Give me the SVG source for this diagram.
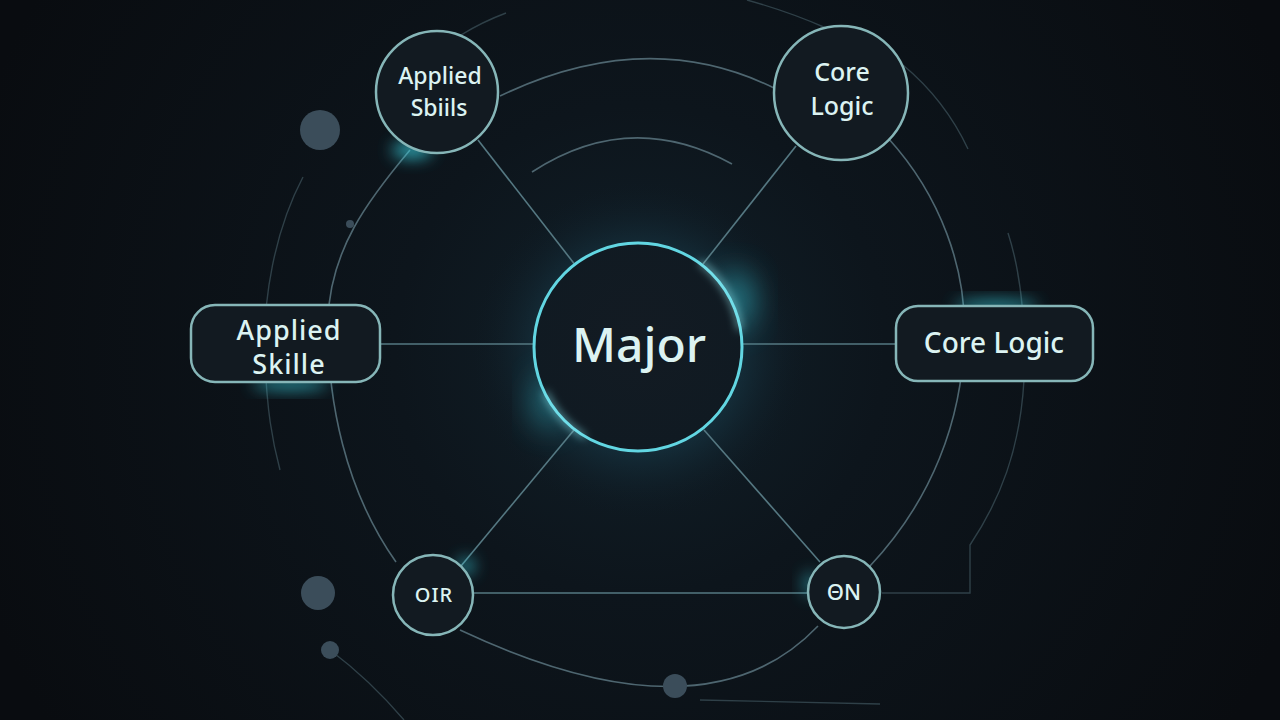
<svg xmlns="http://www.w3.org/2000/svg" width="1280" height="720" viewBox="0 0 1280 720">
  <defs>
    <radialGradient id="bg" cx="640" cy="350" r="700" gradientUnits="userSpaceOnUse">
      <stop offset="0" stop-color="#112029"/>
      <stop offset="0.35" stop-color="#0d151c"/>
      <stop offset="1" stop-color="#090c10"/>
    </radialGradient>
    <radialGradient id="halo" cx="0.5" cy="0.5" r="0.5">
      <stop offset="0.55" stop-color="#1b4556" stop-opacity="0.5"/>
      <stop offset="1" stop-color="#0e1821" stop-opacity="0"/>
    </radialGradient>
    <radialGradient id="majorFill" cx="0.5" cy="0.45" r="0.55">
      <stop offset="0" stop-color="#131b23"/>
      <stop offset="1" stop-color="#101a22"/>
    </radialGradient>
    <filter id="blur8" x="-100%" y="-100%" width="300%" height="300%">
      <feGaussianBlur stdDeviation="8"/>
    </filter>
    <filter id="blur4" x="-100%" y="-100%" width="300%" height="300%">
      <feGaussianBlur stdDeviation="4"/>
    </filter>
    <filter id="blur14" x="-100%" y="-100%" width="300%" height="300%">
      <feGaussianBlur stdDeviation="16"/>
    </filter>
  </defs>
  <style>
    .ring { fill: none; stroke: #4e6670; stroke-width: 1.6; }
    .faint { fill: none; stroke: #2f4048; stroke-width: 1.4; }
    .conn { fill: none; stroke: #557882; stroke-width: 1.6; }
    .node { fill: #121a21; stroke: #86b6b8; stroke-width: 2.5; }
    .dot { fill: #3b4d5a; }
    .glow { fill: #3ee0f0; }
    .lbl { font-family: "Noto Sans", "Open Sans", "Liberation Sans", sans-serif; fill: #dcf3f2; text-anchor: middle; font-weight: 500; }
  </style>

  <rect width="1280" height="720" fill="url(#bg)"/>
  <circle cx="640" cy="350" r="170" fill="url(#halo)"/>

  <!-- decorative rings and arcs -->
  <g id="decor">
    <path class="ring" d="M500,96 Q648,25 776,89"/>
    <path class="ring" d="M888,138 C940,195 968,270 964,340 C962,420 932,500 870,566"/>
    <path class="ring" d="M410,150 C368,200 330,250 328,320 C327,400 345,490 396,562"/>
    <path class="ring" d="M460,630 Q705,745 818,626"/>
    <path class="ring" d="M532,172 Q630,108 732,164"/>
    <path class="faint" d="M461,35 Q482,22 506,13"/>
    <path class="faint" d="M747,0 Q790,12 826,28"/>
    <path class="faint" d="M903,65 Q945,100 968,149"/>
    <path class="faint" d="M303,177 C275,230 262,300 265,360 C267,410 272,440 280,470"/>
    <path class="faint" d="M1008,233 C1020,270 1026,320 1024,380 C1020,450 1000,500 970,545 L970,593 L882,593"/>
    <path class="faint" d="M330,650 Q370,680 404,720"/>
    <path class="faint" d="M700,700 L880,704"/>
    <circle class="dot" cx="320" cy="130" r="20"/>
    <circle class="dot" cx="318" cy="593" r="17"/>
    <circle class="dot" cx="330" cy="650" r="9"/>
    <circle class="dot" cx="675" cy="686" r="12" fill="#4a6272"/>
    <circle class="dot" cx="350" cy="224" r="4"/>
  </g>

  <!-- connectors -->
  <g id="connectors">
    <line class="conn" x1="478" y1="140" x2="576" y2="266"/>
    <line class="conn" x1="796" y1="146" x2="703" y2="264"/>
    <line class="conn" x1="380" y1="344" x2="534" y2="344"/>
    <line class="conn" x1="742" y1="344" x2="895" y2="344"/>
    <line class="conn" x1="574" y1="430" x2="461" y2="566"/>
    <line class="conn" x1="704" y1="430" x2="820" y2="562"/>
    <line class="conn" x1="473" y1="593" x2="807" y2="593"/>
  </g>

  <!-- glows -->
  <g id="glows">
    <ellipse class="glow" cx="412" cy="150" rx="20" ry="8" filter="url(#blur8)" opacity="0.75"/>
    <ellipse class="glow" cx="996" cy="306" rx="42" ry="5" filter="url(#blur8)" opacity="0.75"/>
    <ellipse class="glow" cx="290" cy="384" rx="38" ry="5" filter="url(#blur8)" opacity="0.75"/>
    <ellipse class="glow" cx="736" cy="300" rx="14" ry="28" filter="url(#blur14)" opacity="0.6"/>
    <ellipse class="glow" cx="548" cy="402" rx="12" ry="26" filter="url(#blur14)" opacity="0.5"/>
    <ellipse class="glow" cx="466" cy="566" rx="8" ry="8" filter="url(#blur8)" opacity="0.65"/>
    <ellipse class="glow" cx="810" cy="584" rx="6" ry="12" filter="url(#blur8)" opacity="0.55"/>
  </g>

  <g id="node-major">
    <circle cx="638" cy="347" r="104" fill="url(#majorFill)" stroke="#62d6e2" stroke-width="3"/>
    <path d="M700,262 A104,104 0 0 1 740,330" fill="none" stroke="#9ff4fb" stroke-width="3" filter="url(#blur4)"/>
    <path d="M545,392 A104,104 0 0 0 585,437" fill="none" stroke="#8ff0fa" stroke-width="3" filter="url(#blur4)"/>
    <text class="lbl" x="639" y="362" font-size="48">Major</text>
  </g>

  <g id="node-applied-top">
    <circle class="node" cx="437" cy="92" r="61"/>
    <text class="lbl" x="440" y="84" font-size="23">Applied</text>
    <text class="lbl" x="439" y="116" font-size="23">Sbiils</text>
  </g>

  <g id="node-core-top">
    <circle class="node" cx="841" cy="93" r="67"/>
    <text class="lbl" x="842" y="81" font-size="25">Core</text>
    <text class="lbl" x="842" y="115" font-size="25">Logic</text>
  </g>

  <g id="node-applied-box">
    <rect class="node" x="191" y="305" width="189" height="77" rx="24" stroke="#7fc0c6"/>
    <text class="lbl" x="289" y="340" font-size="27" letter-spacing="1">Applied</text>
    <text class="lbl" x="289" y="374" font-size="27" letter-spacing="1">Skille</text>
  </g>

  <g id="node-core-box">
    <rect class="node" x="896" y="306" width="197" height="75" rx="22" stroke="#7fc0c6"/>
    <text class="lbl" x="994" y="353" font-size="28">Core Logic</text>
  </g>

  <g id="node-oir">
    <circle class="node" cx="433" cy="595" r="40"/>
    <text class="lbl" x="434" y="602" font-size="20" font-weight="600" letter-spacing="1">OIR</text>
  </g>

  <g id="node-on">
    <circle class="node" cx="844" cy="592" r="36"/>
    <text class="lbl" x="844" y="600" font-size="22" font-weight="600">ΘN</text>
  </g>
</svg>
